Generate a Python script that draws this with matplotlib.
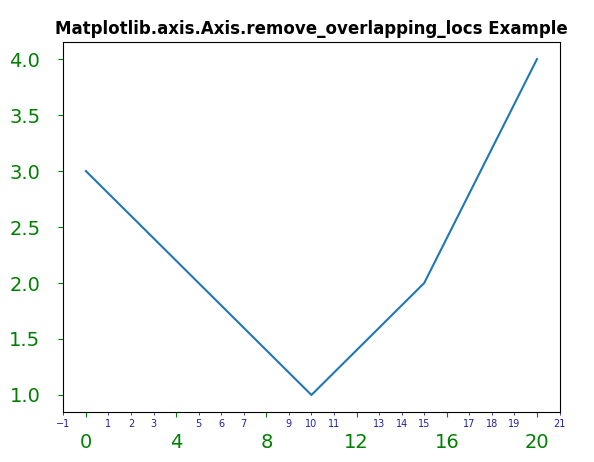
import matplotlib
matplotlib.use("Agg")
import matplotlib.pyplot as plt
import matplotlib.ticker as ticker

x_values = [0, 5, 10, 15, 20]
y_values = [3, 2, 1, 2, 4]
title_text = "Matplotlib.axis.Axis.remove_overlapping_locs Example"

fig = plt.figure(figsize=(5.94, 4.62), dpi=100)
ax = fig.add_axes([0.1066, 0.1087, 0.8354, 0.7998])
ax.plot(x_values, y_values)

ax.xaxis.set_major_locator(ticker.MultipleLocator(4))
ax.xaxis.set_minor_locator(ticker.MultipleLocator(1))
ax.xaxis.set_minor_formatter(ticker.ScalarFormatter())
ax.xaxis.remove_overlapping_locs = True

ax.tick_params(axis='x', which='minor', labelsize=7, colors='#2020a0')
ax.tick_params(axis='x', which='major', labelsize=14, colors='green', pad=11.5)
ax.tick_params(axis='y', which='major', labelsize=14, colors='green', pad=13)

ax.set_title(title_text, fontsize=12, fontweight='bold')

fig.savefig("out.png", dpi=100)
